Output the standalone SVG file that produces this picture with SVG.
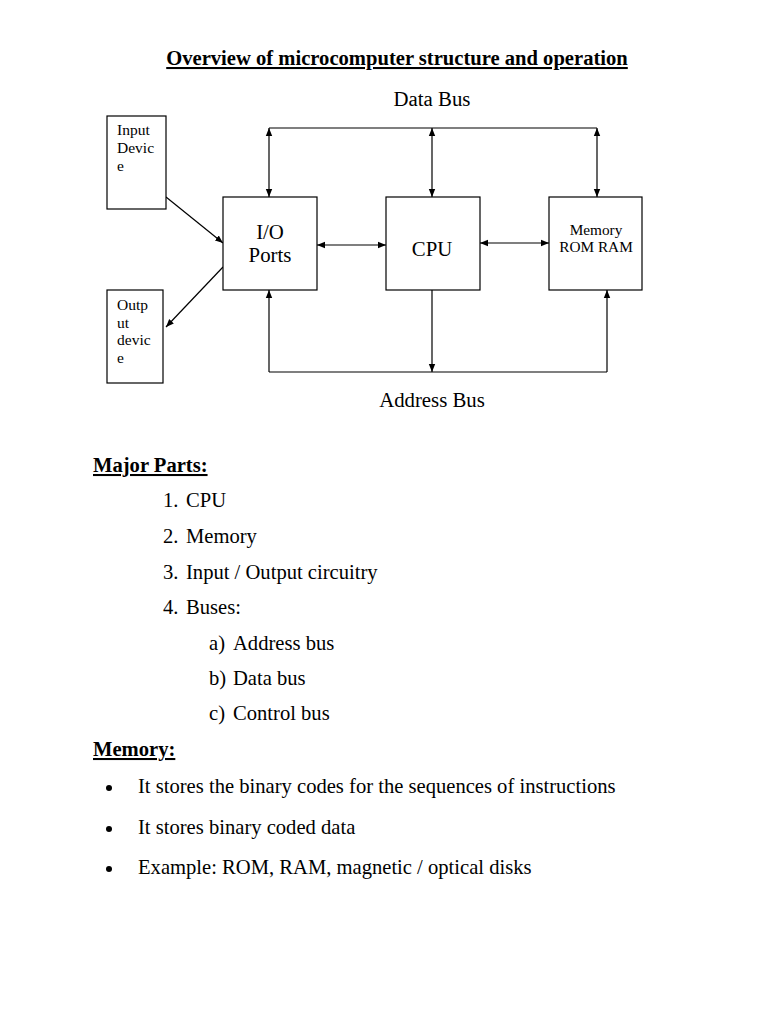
<svg xmlns="http://www.w3.org/2000/svg" width="768" height="1024" viewBox="0 0 768 1024">
<style>
text{font-family:"Liberation Serif","Times New Roman",serif;fill:#000}
.t{font-size:20.6px}
.b{font-weight:bold;text-decoration:underline}
.s{font-size:15.5px}
.mm{font-size:15.3px}
.m{font-size:20.8px}
.box{fill:#fff;stroke:#000;stroke-width:1.2}
.c{stroke:#000;stroke-width:1.2;fill:none}
</style>
<defs>
<marker id="ah" viewBox="0 0 10 10" refX="10" refY="5" markerWidth="8" markerHeight="8" orient="auto-start-reverse" markerUnits="userSpaceOnUse">
<path d="M0,1 L10,5 L0,9 z" fill="#000"/>
</marker>
</defs>
<rect width="768" height="1024" fill="#fff"/>
<text class="t b" x="397" y="65" text-anchor="middle">Overview of microcomputer structure and operation</text>
<text class="m" x="432" y="106" text-anchor="middle">Data Bus</text>
<text class="m" x="432" y="407" text-anchor="middle">Address Bus</text>

<g id="connectors">
<line class="c" x1="269" y1="128" x2="597" y2="128"/>
<line class="c" x1="269" y1="128" x2="269" y2="197" marker-start="url(#ah)" marker-end="url(#ah)"/>
<line class="c" x1="432" y1="128" x2="432" y2="197" marker-start="url(#ah)" marker-end="url(#ah)"/>
<line class="c" x1="597" y1="128" x2="597" y2="197" marker-start="url(#ah)" marker-end="url(#ah)"/>
<line class="c" x1="317" y1="245" x2="386" y2="245" marker-start="url(#ah)" marker-end="url(#ah)"/>
<line class="c" x1="480" y1="243" x2="549" y2="243" marker-start="url(#ah)" marker-end="url(#ah)"/>
<line class="c" x1="166" y1="197" x2="223" y2="243" marker-end="url(#ah)"/>
<line class="c" x1="223" y1="267" x2="166" y2="327" marker-end="url(#ah)"/>
<line class="c" x1="269" y1="372" x2="607" y2="372"/>
<line class="c" x1="269" y1="372" x2="269" y2="290" marker-end="url(#ah)"/>
<line class="c" x1="432" y1="290" x2="432" y2="372" marker-end="url(#ah)"/>
<line class="c" x1="607" y1="372" x2="607" y2="290" marker-end="url(#ah)"/>
</g>

<g id="input">
<rect class="box" x="107" y="116" width="59" height="93"/>
<text class="s" x="117" y="135">Input</text>
<text class="s" x="117" y="153">Devic</text>
<text class="s" x="117" y="171">e</text>
</g>
<g id="output">
<rect class="box" x="107" y="290" width="56" height="93"/>
<text class="s" x="117" y="310">Outp</text>
<text class="s" x="117" y="328">ut</text>
<text class="s" x="117" y="345">devic</text>
<text class="s" x="117" y="363">e</text>
</g>
<g id="io">
<rect class="box" x="223" y="197" width="94" height="93"/>
<text class="m" x="270" y="239" text-anchor="middle">I/O</text>
<text class="m" x="270" y="262" text-anchor="middle">Ports</text>
</g>
<g id="cpu">
<rect class="box" x="386" y="197" width="94" height="93"/>
<text class="m" x="432" y="256" text-anchor="middle">CPU</text>
</g>
<g id="memory">
<rect class="box" x="549" y="197" width="93" height="93"/>
<text class="mm" x="596" y="235" text-anchor="middle">Memory</text>
<text class="mm" x="596" y="252" text-anchor="middle">ROM RAM</text>
</g>

<text class="t b" x="93" y="472">Major Parts:</text>
<text class="t" x="163" y="507">1.</text><text class="t" x="186" y="507">CPU</text>
<text class="t" x="163" y="543">2.</text><text class="t" x="186" y="543">Memory</text>
<text class="t" x="163" y="579">3.</text><text class="t" x="186" y="579">Input / Output circuitry</text>
<text class="t" x="163" y="614">4.</text><text class="t" x="186" y="614">Buses:</text>
<text class="t" x="209" y="650">a)</text><text class="t" x="233" y="650">Address bus</text>
<text class="t" x="209" y="685">b)</text><text class="t" x="233" y="685">Data bus</text>
<text class="t" x="209" y="720">c)</text><text class="t" x="233" y="720">Control bus</text>
<text class="t b" x="93" y="756">Memory:</text>
<circle cx="109" cy="788" r="3"/>
<text class="t" x="138" y="793">It stores the binary codes for the sequences of instructions</text>
<circle cx="109" cy="829" r="3"/>
<text class="t" x="138" y="834">It stores binary coded data</text>
<circle cx="109" cy="869" r="3"/>
<text class="t" x="138" y="874">Example: ROM, RAM, magnetic / optical disks</text>
</svg>
